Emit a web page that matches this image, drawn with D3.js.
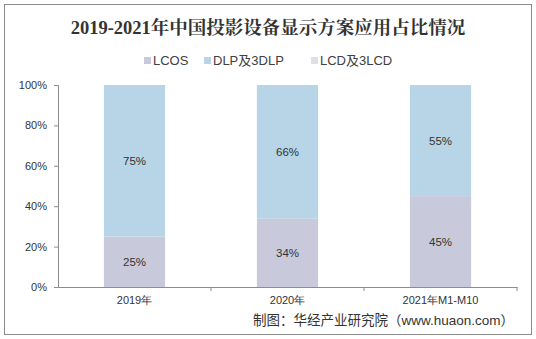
<!DOCTYPE html>
<html>
<head>
<meta charset="utf-8">
<script src="https://cdn.jsdelivr.net/npm/d3@7"></script>
<style>
  body { margin: 0; background: #fff; }
  svg { display: block; font-family: Arial, "Liberation Sans", "Noto Sans CJK SC", sans-serif; }
  .title { font-family: "Liberation Serif", "Noto Serif CJK SC", "Noto Sans CJK SC", serif; font-weight: bold; font-size: 18.5px; fill: #333; }
  .tick text { font-size: 11px; fill: #333; }
</style>
</head>
<body>
<svg id="chart" width="536" height="339"></svg>
<script>
// DATA
const categories = ["2019年", "2020年", "2021年M1-M10"];
const seriesNames = ["LCOS", "DLP及3DLP", "LCD及3LCD"];
const lcos = [25, 34, 45];
const dlp = [75, 66, 55];
const lcd = [0, 0, 0];
const yTicks = [0, 20, 40, 60, 80, 100];
const colors = ["#c8cadb", "#b7d5e6", "#dfdfe7"];

// SETUP
const svg = d3.select("#chart");
const margin = { top: 85, right: 19, bottom: 52, left: 58 },
      width = 536 - margin.left - margin.right,
      height = 339 - margin.top - margin.bottom;

// outer border
svg.append("rect")
    .attr("x", 4.5).attr("y", 4.5)
    .attr("width", 527).attr("height", 330)
    .attr("fill", "none")
    .attr("stroke", "#8c8c8c")
    .attr("stroke-width", 1);

// title
svg.append("text")
    .attr("class", "title")
    .attr("x", 268)
    .attr("y", 34)
    .attr("text-anchor", "middle")
    .text("2019-2021年中国投影设备显示方案应用占比情况");

// legend
const legendX = [144, 204, 311];
const legend = svg.append("g");
seriesNames.forEach((name, i) => {
    legend.append("rect")
        .attr("x", legendX[i]).attr("y", 57)
        .attr("width", 7).attr("height", 7)
        .attr("fill", colors[i]);
    legend.append("text")
        .attr("x", legendX[i] + 9)
        .attr("y", 65)
        .attr("font-size", 13)
        .attr("fill", "#404040")
        .text(name);
});

const g = svg.append("g")
    .attr("transform", `translate(${margin.left},${margin.top})`);

// scales
const x = d3.scaleBand()
    .domain(categories)
    .range([0, width])
    .paddingInner(0.6)
    .paddingOuter(0.3);

const y = d3.scaleLinear()
    .domain([0, 100])
    .range([height, 0]);

// stacked data
const table = categories.map((c, i) => ({ cat: c, LCOS: lcos[i], "DLP及3DLP": dlp[i], "LCD及3LCD": lcd[i] }));
const stacked = d3.stack().keys(seriesNames)(table);

stacked.forEach((layer, li) => {
    g.append("g")
        .attr("fill", colors[li])
        .selectAll("rect")
        .data(layer)
        .join("rect")
        .attr("x", d => x(d.data.cat))
        .attr("y", d => y(d[1]))
        .attr("width", x.bandwidth())
        .attr("height", d => y(d[0]) - y(d[1]));

    // value labels
    g.append("g")
        .selectAll("text")
        .data(layer.filter(d => d[1] - d[0] > 0))
        .join("text")
        .attr("x", d => x(d.data.cat) + x.bandwidth() / 2)
        .attr("y", d => y((d[0] + d[1]) / 2) + 4)
        .attr("text-anchor", "middle")
        .attr("font-size", 11.5)
        .attr("fill", "#333")
        .text(d => (d[1] - d[0]) + "%");
});

// y axis
g.append("g")
    .call(d3.axisLeft(y).tickValues(yTicks).tickFormat(d => d + "%").tickSize(4).tickPadding(7))
    .call(a => a.select(".domain").attr("stroke", "#8c8c8c"))
    .call(a => a.selectAll(".tick line").attr("stroke", "#8c8c8c"))
    .call(a => a.selectAll(".tick text").attr("font-size", 12));

// x axis: ticks at category boundaries
g.append("g")
    .attr("transform", `translate(0,${height})`)
    .call(d3.axisBottom(x).tickSize(0).tickPadding(9))
    .call(a => a.select(".domain").attr("stroke", "#8c8c8c"))
    .call(a => a.selectAll(".tick text").attr("font-size", 11.5));

const step = width / categories.length;
g.append("g")
    .selectAll("line")
    .data(d3.range(1, categories.length + 1))
    .join("line")
    .attr("x1", d => d * step).attr("x2", d => d * step)
    .attr("y1", height).attr("y2", height + 4)
    .attr("stroke", "#8c8c8c");

// source
svg.append("text")
    .attr("x", 514)
    .attr("y", 325)
    .attr("text-anchor", "end")
    .attr("font-size", 13.5)
    .attr("fill", "#333")
    .text("制图：华经产业研究院（www.huaon.com）");
</script>
</body>
</html>
